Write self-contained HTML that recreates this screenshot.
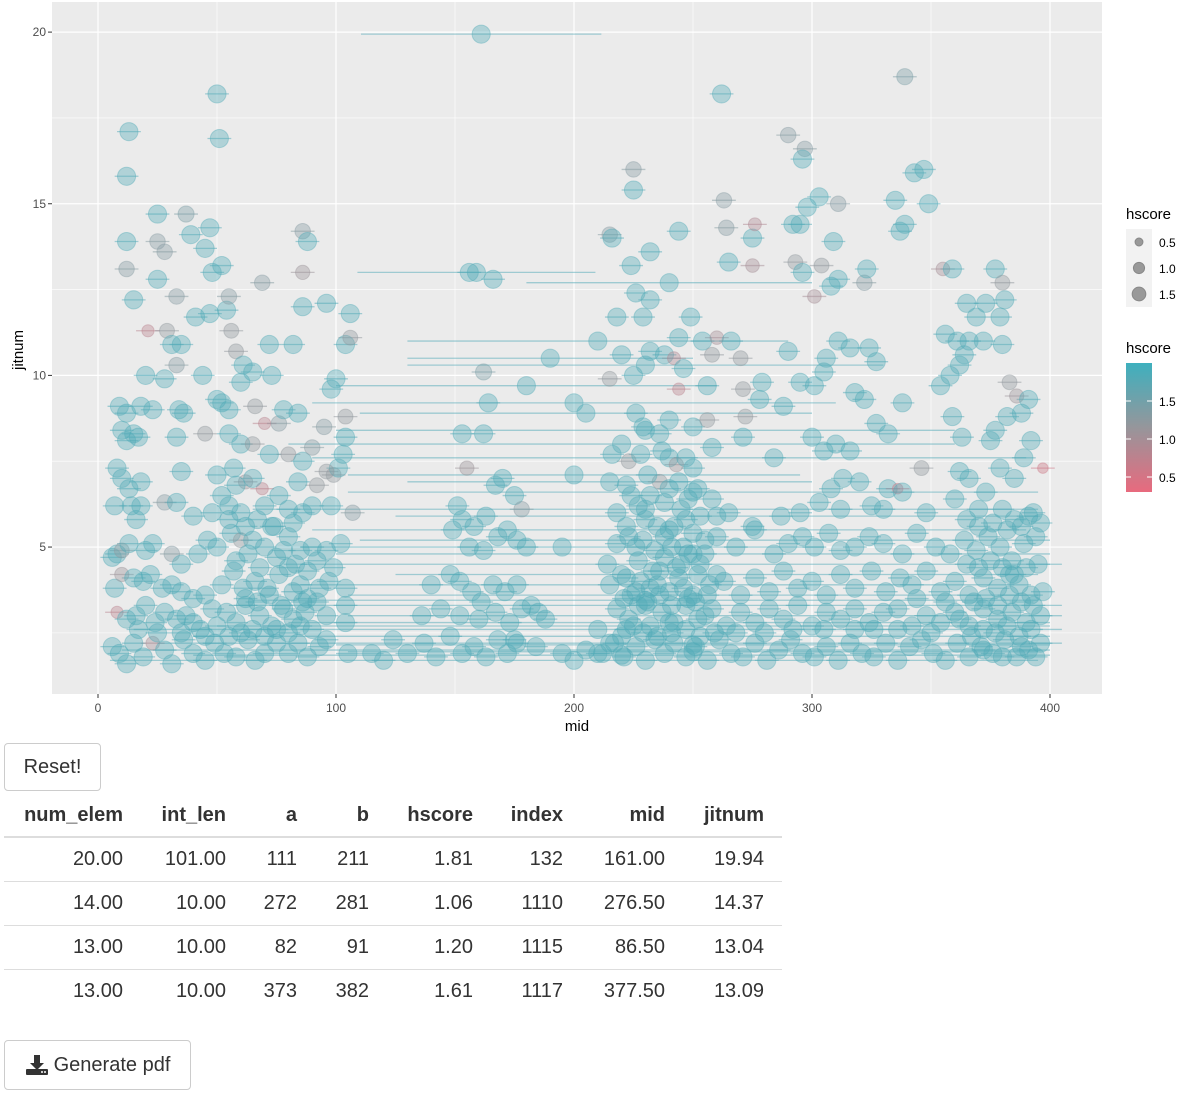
<!DOCTYPE html>
<html><head><meta charset="utf-8">
<style>
body{margin:0;background:#fff;font-family:"Liberation Sans",Arial,sans-serif;width:1181px;height:1093px;overflow:hidden;position:relative}
#chart{position:absolute;left:0;top:0}
.btn{position:absolute;border:1px solid #ccc;border-radius:4px;background:#fff;font-size:20px;color:#333;box-sizing:border-box;display:flex;align-items:center;justify-content:center}
table{position:absolute;left:4px;top:794px;border-collapse:collapse;font-size:20px;color:#333}
th,td{text-align:right;padding:0;height:43px}
th{font-weight:bold;border-bottom:2px solid #ddd;height:42px}
td{border-bottom:1px solid #ddd}
tr:last-child td{border-bottom:none}
th:last-child,td:last-child{padding-right:18px}
</style></head><body>
<svg id="chart" width="1181" height="740" xmlns="http://www.w3.org/2000/svg"></svg>
<div class="btn" style="left:4px;top:743px;width:97px;height:48px">Reset!</div>
<table>
<colgroup><col style="width:119px"><col style="width:103px"><col style="width:71px"><col style="width:72px"><col style="width:104px"><col style="width:90px"><col style="width:102px"><col style="width:117px"></colgroup>
<tr><th>num_elem</th><th>int_len</th><th>a</th><th>b</th><th>hscore</th><th>index</th><th>mid</th><th>jitnum</th></tr>
<tr><td>20.00</td><td>101.00</td><td>111</td><td>211</td><td>1.81</td><td>132</td><td>161.00</td><td>19.94</td></tr>
<tr><td>14.00</td><td>10.00</td><td>272</td><td>281</td><td>1.06</td><td>1110</td><td>276.50</td><td>14.37</td></tr>
<tr><td>13.00</td><td>10.00</td><td>82</td><td>91</td><td>1.20</td><td>1115</td><td>86.50</td><td>13.04</td></tr>
<tr><td>13.00</td><td>10.00</td><td>373</td><td>382</td><td>1.61</td><td>1117</td><td>377.50</td><td>13.09</td></tr>
</table>
<div class="btn" style="left:4px;top:1040px;width:187px;height:50px">
<svg width="24" height="22" viewBox="0 0 24 22" style="margin-right:5px"><path d="M9 1h6v8h4l-7 7-7-7h4z" fill="#333"/><rect x="1" y="15" width="22" height="6" rx="1" fill="#333"/><circle cx="17" cy="18" r="1" fill="#fff"/><circle cx="20" cy="18" r="1" fill="#fff"/></svg>Generate pdf</div>
<script>
// data: [mid, jitnum, hscore?]
const leftPts=[[13,17.1],[50,18.2],[51,16.9],[12,15.8],[12,13.9],[12,13.1,1.3],[15,12.2],[25,14.7],[25,13.9,1.3],[28,13.6,1.3],[37,14.7,1.4],[39,14.1],[45,13.7],[47,14.3],[48,13.0],[52,13.2],[25,12.8],[33,12.3,1.3],[41,11.7],[47,11.8],[54,11.9],[55,12.3,1.3],[69,12.7,1.3],[86,14.2,1.3],[88,13.9],[86,13.0,1.1],[86,12.0],[96,12.1],[106,11.8],[21,11.3,0.8],[29,11.3,1.2],[31,10.9],[35,10.9],[56,11.3,1.2],[58,10.7,1.2],[61,10.3],[65,10.1],[72,10.9],[73,10.0],[82,10.9],[104,10.9],[106,11.1,1.2],[100,9.9],[98,9.6],[20,10.0],[28,9.9],[33,10.3,1.3],[44,10.0],[50,9.3],[52,9.2],[55,9.0],[60,9.8],[66,9.1,1.2],[70,8.6,0.8],[76,8.6,1.3],[78,9.0],[84,8.9],[95,8.5,1.3],[104,8.8,1.2],[104,8.2],[9,9.1],[12,8.9],[15,8.3],[18,9.1],[23,9.0],[34,9.0],[36,8.9],[33,8.2],[10,8.4],[12,8.1],[17,8.2],[45,8.3,1.2],[55,8.3],[60,8.0],[65,8.0,1.2],[72,7.7],[80,7.7,1.2],[86,7.5],[90,7.9,1.3],[99,7.1,1.2],[101,7.3],[103,7.7],[8,7.3],[10,7.0],[13,6.7],[18,6.9],[35,7.2],[50,7.1],[57,7.3],[62,6.9,1.1],[69,6.7,0.8],[76,6.5],[84,6.9],[92,6.8,1.2],[96,7.2,1.2],[7,6.2],[14,6.2],[16,5.8],[18,6.2],[28,6.3,1.3],[33,6.3],[40,5.9],[55,6.2],[60,6.0],[67,5.8],[74,5.6],[80,6.1],[90,6.2],[98,6.2],[107,6.0,1.3],[6,4.7],[8,4.8],[10,4.9,1.2],[13,5.1],[20,4.9],[23,5.1],[31,4.8,1.3],[35,4.5],[42,4.8],[46,5.2],[50,5.0],[56,5.4],[60,5.2,1.2],[65,5.2],[70,5.0],[75,4.7],[80,5.3],[85,4.9],[90,5.0],[96,4.9],[102,5.1],[7,3.8],[10,4.2,1.1],[15,4.1],[19,4.0],[22,4.2],[27,3.8],[31,3.9],[35,3.7],[40,3.5],[45,3.6],[52,3.9],[57,4.3],[61,3.8],[66,4.0],[71,3.8],[76,4.2],[80,4.4],[85,3.9],[88,3.5],[93,3.8],[97,4.0],[104,3.8],[8,3.1,0.8],[12,2.9],[16,3.0],[20,3.3],[24,2.8],[28,3.1],[33,2.9],[37,3.0],[43,2.6],[48,3.2],[54,3.1],[58,2.8],[62,3.3],[68,3.0],[73,2.7],[78,3.2],[82,2.9],[87,3.1],[92,3.4],[96,3.0],[104,3.3],[104,2.8],[6,2.1],[9,1.9],[12,1.6],[15,2.2],[19,1.8],[23,2.2,1.0],[28,2.0],[31,1.6],[36,2.3],[40,1.9],[45,1.7],[49,2.2],[53,1.9],[58,1.8],[63,2.3],[66,1.7],[70,1.9],[75,2.2],[80,1.9],[84,2.2],[88,1.8],[93,2.1],[96,2.3],[105,1.9]];
const midPts=[[156,13.0],[166,12.8],[162,10.1,1.4],[164,9.2],[153,8.3],[162,8.3],[155,7.3,1.1],[170,7.0],[167,6.8],[175,6.5],[151,6.2],[153,5.8],[158,5.6],[163,5.9],[168,5.3],[172,5.5],[178,6.1,1.3],[180,5.0],[149,5.5],[156,5.0],[162,4.9],[176,5.2],[140,3.9],[148,4.2],[152,4.0],[157,3.7],[161,3.4],[166,3.9],[171,3.7],[176,3.9],[182,3.3],[136,3.0],[144,3.2],[152,3.0],[160,2.9],[167,3.1],[173,2.8],[178,3.2],[185,3.1],[124,2.3],[130,1.9],[137,2.2],[142,1.8],[148,2.4],[153,1.9],[158,2.1],[163,1.8],[168,2.3],[172,1.9],[176,2.2],[184,2.1],[195,1.9],[210,1.9],[115,1.9],[120,1.7],[188,2.9],[175,2.3]];
const rightPts=[[262,18.2],[339,18.7,1.4],[225,16.0,1.3],[225,15.4],[263,15.1,1.3],[264,14.3,1.3],[290,17.0,1.3],[297,16.6,1.3],[296,16.3],[303,15.2],[298,14.9],[311,15.0,1.3],[335,15.1],[339,14.4],[337,14.2],[343,15.9],[347,16.0],[349,15.0],[292,14.4],[295,14.4],[309,13.9],[215,14.1,1.3],[216,14.0],[244,14.2],[232,13.6],[224,13.2],[265,13.3],[275,14.0],[276,14.4,0.9],[275,13.2,1.0],[293,13.3,1.2],[296,13.0],[304,13.2,1.2],[311,12.8],[308,12.6],[322,12.7,1.3],[323,13.1],[355,13.1,1.0],[359,13.1],[365,12.1],[369,11.7],[373,12.1],[377,13.1],[380,12.7,1.2],[381,12.2],[379,11.7],[226,12.4],[232,12.2],[229,11.7],[218,11.7],[249,11.7],[244,11.1],[254,11.0],[258,10.6,1.2],[260,11.1,1.0],[266,11.0],[270,10.5,1.2],[290,10.7],[301,12.3,1.0],[306,10.5],[311,11.0],[316,10.8],[324,10.8],[327,10.4],[356,11.2],[361,11.0],[364,10.6],[366,11.0],[372,11.0],[380,10.9],[220,10.6],[215,9.9,1.2],[225,10.0],[232,10.7],[238,10.6],[242,10.5,0.9],[246,10.2],[256,9.7],[271,9.6,1.2],[279,9.8],[295,9.8],[301,9.7],[305,10.1],[318,9.5],[322,9.3],[354,9.7],[358,10.0],[362,10.3],[383,9.8,1.2],[386,9.4,1.1],[388,8.9],[391,9.3],[382,8.8],[226,8.9],[229,8.5],[236,8.3],[240,8.7],[244,9.6,0.8],[250,8.5],[256,8.7,1.2],[272,8.8,1.2],[278,9.3],[288,9.1],[300,8.2],[310,8.0],[316,7.8],[327,8.6],[332,8.3],[338,9.2],[359,8.8],[363,8.2],[375,8.1],[377,8.4],[392,8.1],[216,7.7],[223,7.5,1.2],[228,7.7],[237,7.8],[243,7.4,1.1],[247,7.6],[258,7.9],[271,8.2],[284,7.6],[305,7.8],[313,7.0],[320,6.9],[332,6.7],[336,6.7,0.6],[346,7.3,1.2],[362,7.2],[366,7.0],[373,6.6],[379,7.3],[385,7.0],[389,7.6],[397,7.3,0.6],[218,6.0],[222,6.8],[227,6.2],[232,6.5],[236,6.9,1.2],[240,6.7],[244,6.9],[248,6.4],[252,6.7],[258,6.4],[265,6.0],[275,5.6],[287,5.9],[295,6.0],[303,6.3],[308,6.7],[312,6.1],[325,6.2],[330,6.1],[338,6.6],[348,6.0],[360,6.4],[365,5.8],[370,6.1],[380,6.1],[385,5.8],[391,5.9],[396,5.7],[214,4.5],[218,5.1],[222,5.6],[226,5.0],[230,5.8],[234,4.9],[238,5.3],[242,5.6],[246,5.0],[250,5.4],[255,4.8],[260,5.3],[268,5.0],[276,5.5],[284,4.8],[290,5.1],[296,5.3],[301,5.0],[307,5.4],[312,4.9],[318,5.0],[324,5.3],[330,5.1],[338,4.8],[344,5.4],[352,5.0],[358,4.8],[364,5.2],[369,4.9],[374,5.3],[379,5.0],[384,4.6],[389,5.1],[394,5.3],[215,3.9],[220,4.2],[224,3.6],[228,4.0],[232,3.8],[236,4.3],[240,3.7],[244,4.1],[248,3.5],[252,4.2],[257,3.9],[263,4.0],[270,3.6],[276,4.1],[282,3.7],[288,4.3],[294,3.8],[300,4.0],[306,3.6],[312,4.2],[318,3.8],[325,4.3],[331,3.7],[337,4.1],[342,3.9],[348,4.3],[354,3.7],[360,4.0],[366,3.6],[372,4.1],[378,3.8],[383,4.2],[387,3.9],[392,3.6],[397,3.7],[218,3.2],[223,2.9],[227,3.3],[232,2.7],[237,3.1],[242,2.8],[247,3.3],[252,2.9],[258,3.2],[264,2.7],[270,3.1],[276,2.8],[282,3.2],[288,2.9],[294,3.3],[300,2.7],[306,3.1],[312,2.9],[318,3.2],[324,2.8],[330,3.1],[336,3.2],[342,2.7],[348,3.0],[354,2.8],[360,3.1],[366,2.7],[372,3.2],[378,2.9],[384,3.1],[390,2.8],[396,3.0],[212,1.9],[217,2.2],[221,1.8],[226,2.1],[230,1.7],[234,2.3],[238,1.9],[242,2.2],[247,1.8],[251,2.1],[256,1.7],[261,2.3],[266,1.9],[271,1.8],[276,2.2],[281,1.7],[286,2.0],[291,2.3],[296,1.9],[301,1.8],[306,2.1],[311,1.7],[316,2.2],[321,1.9],[326,1.8],[331,2.2],[336,1.7],[341,2.1],[346,2.3],[351,1.9],[356,1.7],[361,2.2],[366,1.8],[371,2.1],[376,1.9],[381,2.3],[386,1.8],[391,2.0],[396,2.2]];
const densePts=[[58,4.6],[63,4.8],[68,4.4],[73,5.6],[78,4.9],[83,4.5],[62,3.5],[67,3.4],[72,3.6],[77,3.3],[82,3.7],[86,3.4],[60,2.5],[65,2.6],[70,2.4],[75,2.6],[80,2.5],[85,2.7],[90,2.6],[55,2.4],[50,2.7],[45,2.4],[40,2.8],[35,2.5],[25,2.5],[17,2.6],[88,4.3],[92,4.6],[99,4.4],[55,5.8],[62,5.6],[70,6.2],[82,5.7],[86,6.0],[48,6.0],[52,6.5],[58,6.8],[65,7.0],[222,4.1],[227,4.6],[233,4.3],[238,4.7],[243,4.4],[248,4.8],[253,4.5],[223,5.3],[229,5.2],[235,5.6],[241,5.0],[247,5.8],[253,5.9],[221,3.5],[226,3.7],[231,3.4],[236,3.6],[241,3.3],[246,3.8],[251,3.4],[256,3.6],[222,2.6],[229,2.5],[235,2.4],[241,2.5],[247,2.6],[253,2.4],[259,2.5],[224,6.5],[231,7.1],[238,6.3],[245,6.1],[250,7.3],[365,4.5],[370,4.4],[375,4.6],[380,4.4],[385,4.2],[390,4.4],[395,4.5],[368,3.4],[373,3.5],[378,3.3],[383,3.6],[388,3.4],[393,3.3],[367,2.4],[372,2.6],[377,2.5],[382,2.7],[387,2.4],[392,2.6],[370,5.6],[376,5.7],[382,5.5],[388,5.6],[393,6.0],[372,2.0],[380,1.8],[388,2.1],[394,1.8],[362,2.9],[356,3.4],[350,2.5],[344,3.5],[336,2.6],[326,2.6],[318,2.6],[305,2.6],[292,2.6],[280,2.5],[268,2.5]];
// long intervals: [mid, jitnum, int_len]
const longSegs=[[161,19.94,101],[159,13.0,100],[240,12.7,120],[210,11.0,160],[230,10.3,200],[180,9.7,160],[200,9.2,220],[205,8.9,190],[230,8.4,260],[220,8.0,280],[240,7.6,300],[200,7.1,190],[250,6.6,290],[230,6.1,330],[260,5.9,270],[240,5.5,300],[255,5.2,290],[250,4.8,300],[245,4.5,320],[260,4.2,270],[235,3.9,300],[250,3.6,290],[230,3.3,350],[255,3.0,300],[240,2.8,320],[210,2.6,390],[220,2.4,360],[215,2.2,380],[205,2.0,390],[220,1.85,360],[200,1.7,390],[250,2.15,300],[230,3.45,330],[195,5.0,220],[215,6.9,170],[190,10.5,120],[250,1.95,290],[225,2.7,350]];
const defaultScore=1.78, shortLen=10;
const xTicks=[0,100,200,300,400], yTicks=[5,10,15,20];

const svg=document.getElementById('chart');
const NS='http://www.w3.org/2000/svg';
const P={l:52,r:1102,t:2,b:694};
const xS=v=>98+v*2.38, yS=v=>718.7-v*34.33;
const rS=s=>6.8*Math.sqrt(s);
function col(s){const t=Math.max(0,Math.min(1,(s-0.35)/1.6));
 const a=[232,106,126],m=[150,150,155],b=[62,176,190];
 let c; if(t<0.5){const u=t/0.5;c=a.map((v,i)=>v+(m[i]-v)*u);}else{const u=(t-0.5)/0.5;c=m.map((v,i)=>v+(b[i]-v)*u);}
 return 'rgb('+c.map(Math.round).join(',')+')';}
function mk(tag,at,parent){const e=document.createElementNS(NS,tag);for(const k in at)e.setAttribute(k,at[k]);(parent||svg).appendChild(e);return e;}
const bg=mk('rect',{x:P.l,y:P.t,width:P.r-P.l,height:P.b-P.t,fill:'#ebebeb'});


const grid=mk('g',{});


[50,150,250,350].forEach(v=>mk('line',{x1:xS(v),x2:xS(v),y1:P.t,y2:P.b,stroke:'#fff','stroke-width':0.6},grid));
[2.5,7.5,12.5,17.5].forEach(v=>mk('line',{x1:P.l,x2:P.r,y1:yS(v),y2:yS(v),stroke:'#fff','stroke-width':0.6},grid));
xTicks.forEach(v=>mk('line',{x1:xS(v),x2:xS(v),y1:P.t,y2:P.b,stroke:'#fff','stroke-width':1.2},grid));
yTicks.forEach(v=>mk('line',{x1:P.l,x2:P.r,y1:yS(v),y2:yS(v),stroke:'#fff','stroke-width':1.2},grid));
const segG=mk('g',{});


const ptG=mk('g',{});


function draw(m,j,len,s){
 const c=col(s);
 const ln=mk('line',{x1:xS(m-len/2),x2:xS(m+len/2),y1:yS(j),y2:yS(j),stroke:c,'stroke-opacity':0.5,'stroke-width':1.3},segG);
 
 
 const ci=mk('circle',{cx:xS(m),cy:yS(j),r:rS(s),fill:c,'fill-opacity':0.38,stroke:c,'stroke-opacity':0.4,'stroke-width':1},ptG);
 
 
}
longSegs.forEach(d=>draw(d[0],d[1],d[2],defaultScore));
[leftPts,midPts,rightPts,densePts].forEach(arr=>arr.forEach(d=>draw(d[0],d[1],shortLen,d[2]===undefined?defaultScore:d[2])));
// axes
xTicks.forEach(v=>{mk('line',{x1:xS(v),x2:xS(v),y1:P.b,y2:P.b+4,stroke:'#333'});
 const t=mk('text',{x:xS(v),y:P.b+18,'text-anchor':'middle','font-size':12,fill:'#4d4d4d'});t.textContent=v;
 
 });
yTicks.forEach(v=>{mk('line',{x1:P.l-4,x2:P.l,y1:yS(v),y2:yS(v),stroke:'#333'});
 const t=mk('text',{x:P.l-6,y:yS(v)+4,'text-anchor':'end','font-size':12,fill:'#4d4d4d'});t.textContent=v;
 
 });
const xt=mk('text',{x:577,y:731,'text-anchor':'middle','font-size':15,fill:'#000'});xt.textContent='mid';


const yt=mk('text',{x:23,y:350,'text-anchor':'middle','font-size':15,fill:'#000',transform:'rotate(-90 23 350)'});yt.textContent='jitnum';


// legends
const lg=mk('g',{});


mk('text',{x:1126,y:219,'font-size':15,fill:'#000'},lg).textContent='hscore';
[[0.5,242],[1.0,268],[1.5,294]].forEach(d=>{mk('rect',{x:1126,y:d[1]-13,width:26,height:26,fill:'#f2f2f2'},lg);
 mk('circle',{cx:1139,cy:d[1],r:rS(d[0])*0.82,fill:'#999',stroke:'#888'},lg);
 mk('text',{x:1159,y:d[1]+5,'font-size':12,fill:'#000'},lg).textContent=d[0].toFixed(1);});
const cg=mk('g',{});


mk('text',{x:1126,y:353,'font-size':15,fill:'#000'},cg).textContent='hscore';
const defs=mk('defs',{});const gr=mk('linearGradient',{id:'g1',x1:0,y1:0,x2:0,y2:1},defs);
mk('stop',{offset:'0',"stop-color":col(1.95)},gr);mk('stop',{offset:'0.5',"stop-color":col(1.15)},gr);mk('stop',{offset:'1',"stop-color":col(0.35)},gr);
mk('rect',{x:1126,y:363,width:26,height:129,fill:'url(#g1)'},cg);
[[1.5,401],[1.0,439],[0.5,477]].forEach(d=>{mk('line',{x1:1126,x2:1131,y1:d[1],y2:d[1],stroke:'#fff'},cg);mk('line',{x1:1147,x2:1152,y1:d[1],y2:d[1],stroke:'#fff'},cg);
 mk('text',{x:1159,y:d[1]+5,'font-size':12,fill:'#000'},cg).textContent=d[0].toFixed(1);});
</script>
</body></html>
